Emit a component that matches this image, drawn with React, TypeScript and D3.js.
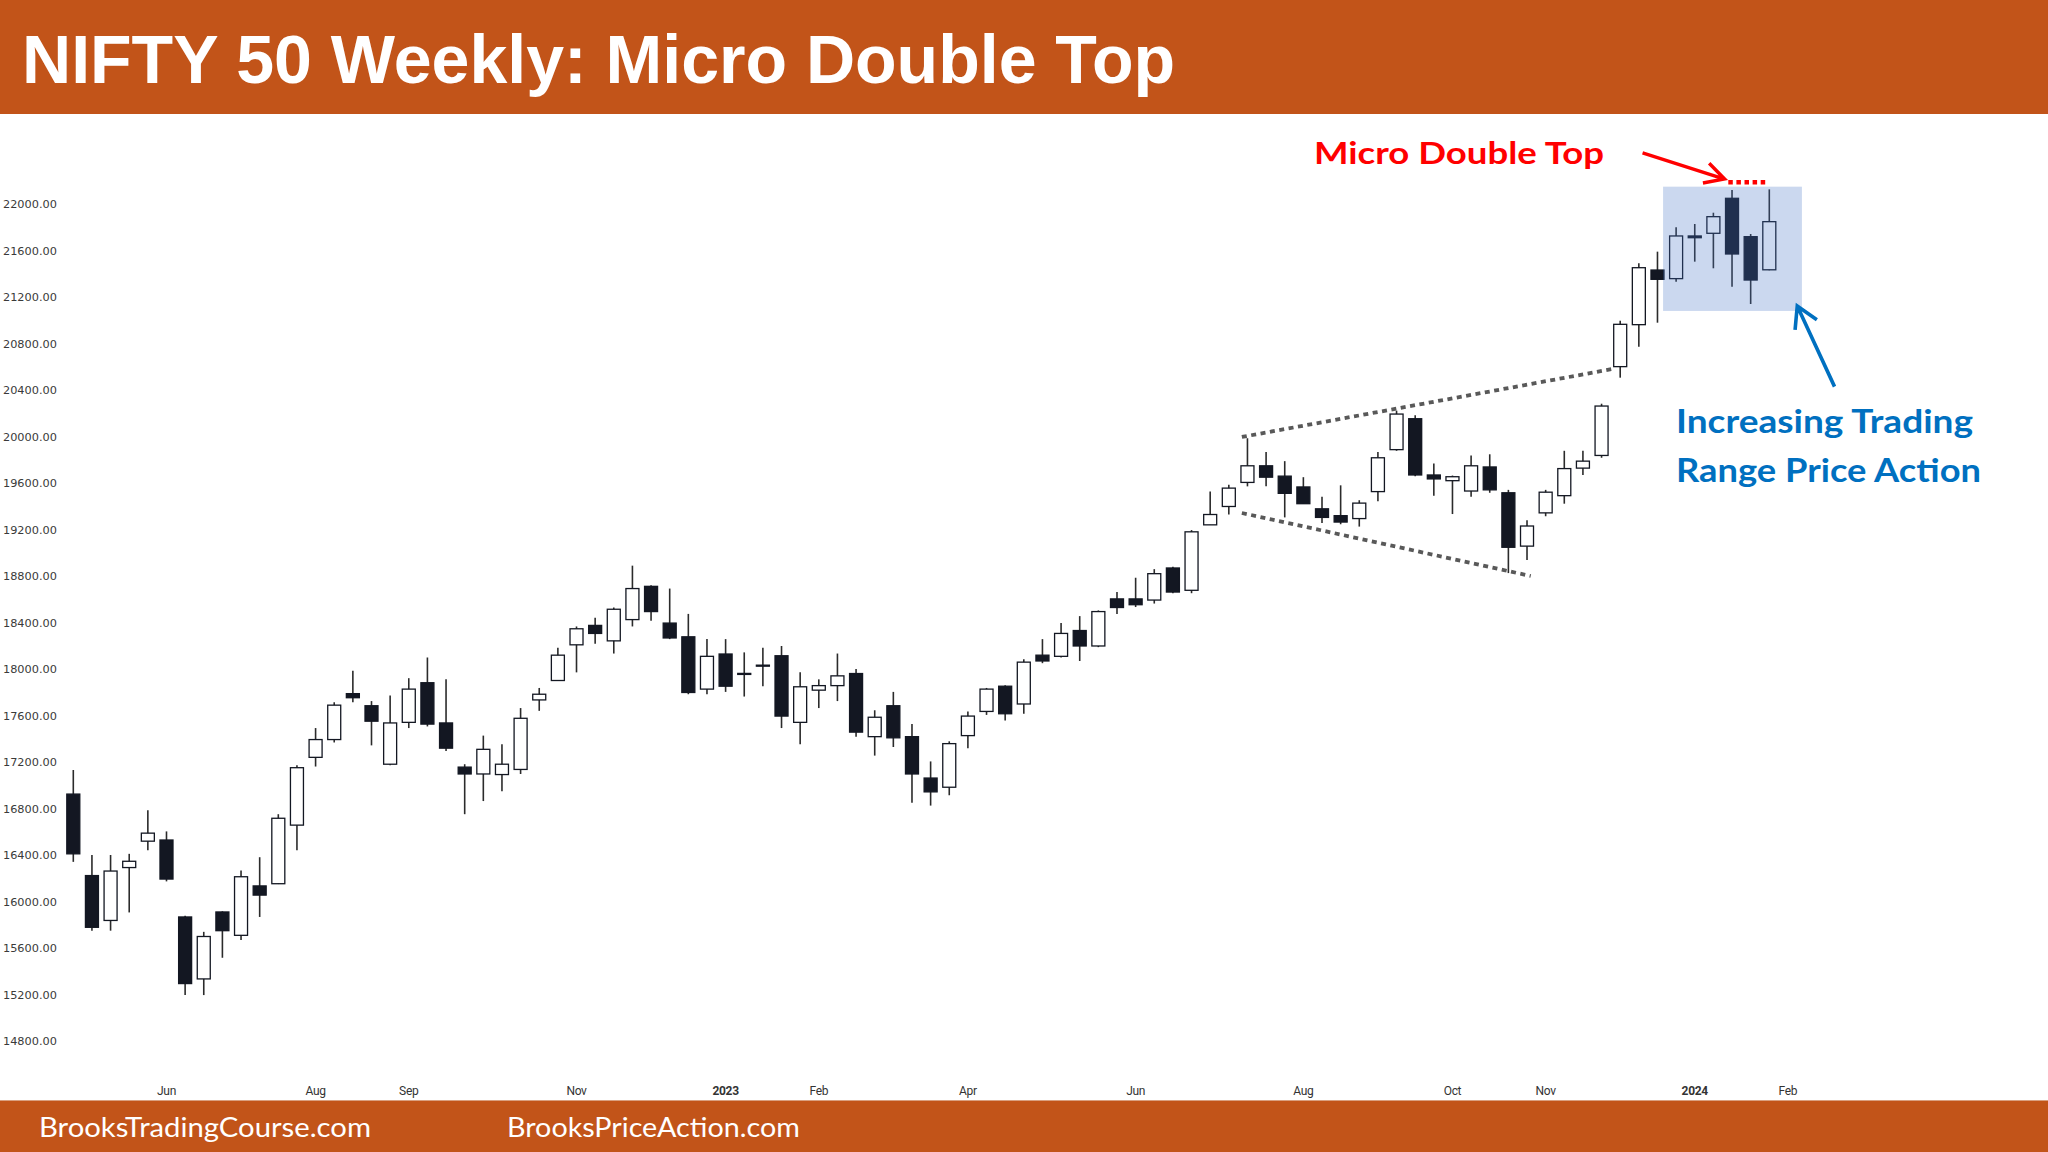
import React from "react";
import * as d3 from "d3";

// Weekly NIFTY 50 candles, week of 2022-05-02 through week of 2024-01-29
const opens = [16924,16223,15837,16292,16519,16529,15867,15334,15910,15709,16134,16153,16657,17240,17393,17788,17684,17181,17541,17882,17536,17156,17097,17092,17136,17734,17901,18208,18375,18242,18425,18711,18395,18277,17827,18129,17958,18033,18114,17541,17818,17857,17961,17418,17684,17418,17062,16983,17427,17635,17852,17699,18119,18109,18331,18198,18603,18603,18593,18869,18677,19240,19398,19605,19748,19659,19566,19378,19319,19294,19526,19887,20153,19669,19620,19531,19738,19516,19057,19343,19491,19728,19837,20601,20962,21432,21358,21725,21748,22049,21719,21434];
const highs = [17131,16400,16400,16410,16785,16603,15877,15739,15916,16267,16381,16751,17171,17492,17714,17985,17724,17773,17921,18099,17911,17181,17427,17353,17664,17837,18183,18366,18440,18529,18889,18721,18692,18474,18257,18257,18143,18183,18198,17971,17911,18133,18000,17645,17803,17526,17205,17378,17635,17837,17860,18084,18257,18395,18455,18504,18662,18785,18859,18879,19195,19526,19585,19985,19867,19788,19650,19482,19580,19452,19867,20222,20183,19768,19664,19837,19847,19541,19279,19541,19877,19877,20282,20996,21490,21590,21800,21828,21925,22120,21742,22126];
const lows = [16341,15749,15749,15906,16440,16173,15195,15195,15516,15669,15867,16150,16440,17161,17368,17714,17343,17171,17492,17506,17294,16751,16864,16948,17097,17640,17900,17971,18217,18133,18366,18415,18257,17783,17783,17803,17763,17852,17492,17353,17664,17724,17418,17255,17329,16850,16825,16914,17319,17605,17556,17615,18050,18100,18069,18188,18474,18533,18563,18652,18652,19240,19329,19571,19571,19304,19420,19255,19245,19225,19442,19877,19659,19491,19333,19482,19516,18825,18938,19314,19422,19669,19817,20506,20773,20979,21332,21504,21447,21289,21140,21430];
const closes = [16410,15778,16262,16346,16588,16193,15294,15699,15749,16213,16055,16716,17151,17393,17689,17753,17551,17536,17827,17526,17319,17097,17309,17181,17576,17783,18119,18346,18306,18514,18692,18494,18267,17798,18109,17852,17962,18027,17595,17847,17857,17941,17457,17585,17408,17097,16943,17358,17595,17827,17615,18059,18069,18306,18198,18494,18529,18553,18820,18662,19180,19329,19556,19748,19650,19511,19422,19304,19264,19427,19817,20193,19669,19635,19654,19748,19541,19047,19230,19521,19724,19788,20262,20965,21452,21352,21725,21710,21891,21570,21346,21848];

const priceTicks = [14800,15200,15600,16000,16400,16800,17200,17600,18000,18400,18800,19200,19600,20000,20400,20800,21200,21600,22000];
const timeTickLabels = ["Jun","Aug","Sep","Nov","2023","Feb","Apr","Jun","Aug","Oct","Nov","2024","Feb"];
const timeTickIndex = [5,13,18,27,35,40,48,57,66,74,79,87,92];

// annotation anchors (bar index, price)
const wedgeUpper = [[62.7,19996],[82.6,20581]];
const wedgeLower = [[62.7,19342],[78.2,18800]];
const doubleTopLine = [[88.8,22187],[90.9,22187]];
const rangeBox = { i0: 85.3, i1: 92.75, p0: 21080, p1: 22149 };
const redArrow = [[84.2,22439],[88.6,22215]];
const blueArrow = [[94.5,20429],[92.5,21123]];

const W = 2048, H = 1152;
const ORANGE = "#C25419";
const DARK = "#131722";

function arrowPath(x1:number,y1:number,x2:number,y2:number,len:number,ang:number){
  const a = Math.atan2(y1-y2, x1-x2);
  const r = ang*Math.PI/180;
  const ax1 = x2 + len*Math.cos(a+r), ay1 = y2 + len*Math.sin(a+r);
  const ax2 = x2 + len*Math.cos(a-r), ay2 = y2 + len*Math.sin(a-r);
  return `M${x1},${y1}L${x2},${y2}M${ax1},${ay1}L${x2},${y2}L${ax2},${ay2}`;
}

export default function App(){
  const x = d3.scaleLinear().domain([0,91]).range([73.3,1769.3]);
  const y = d3.scaleLinear().domain([14800,22000]).range([1041,204]);
  const bw = 13;
  const line = d3.line<number[]>().x(d=>x(d[0])).y(d=>y(d[1]));
  const ra = redArrow.map(d=>[x(d[0]),y(d[1])]);
  const ba = blueArrow.map(d=>[x(d[0]),y(d[1])]);
  return (
    <svg width={W} height={H} style={{position:"absolute",left:0,top:0,display:"block",background:"#fff"}}>
      <rect x={0} y={0} width={W} height={H} fill="#fff"/>
      {/* title bar */}
      <rect x={0} y={0} width={W} height={114} fill={ORANGE}/>
      <text x={22} y={83} fill="#fff" fontFamily="'Liberation Sans', Arial, sans-serif" fontWeight="bold" fontSize={68} textLength={1153} lengthAdjust="spacingAndGlyphs">NIFTY 50 Weekly: Micro Double Top</text>
      {/* y axis labels */}
      {priceTicks.map(p=>(
        <text key={p} x={3} y={y(p)+1} dominantBaseline="middle" fontFamily="'DejaVu Sans', sans-serif" fontSize={11.3} fill="#3a3a3a">{p.toFixed(2)}</text>
      ))}
      {/* x axis labels */}
      {timeTickLabels.map((t,k)=>(
        <text key={k} x={x(timeTickIndex[k])} y={1092} textAnchor="middle" dominantBaseline="middle" fontFamily="Roboto, sans-serif" fontSize={12} fontWeight={t.length===4?"bold":"normal"} fill="#333" style={{letterSpacing:"-0.3px"}}>{t}</text>
      ))}
      {/* candles */}
      {opens.map((o,i)=>{
        const c = closes[i];
        const up = c>=o;
        const top = y(Math.max(o,c)), bot = y(Math.min(o,c));
        const cx = x(i);
        return (
          <g key={i}>
            <line x1={cx} x2={cx} y1={y(highs[i])} y2={y(lows[i])} stroke="#2b2b2b" strokeWidth={1.6}/>
            <rect x={cx-bw/2} y={top} width={bw} height={Math.max(1,bot-top)} fill={up?"#fff":DARK} stroke={DARK} strokeWidth={1.3}/>
          </g>
        );
      })}
      {/* wedge lines */}
      <path d={line(wedgeUpper as any)!} stroke="#595959" strokeWidth={3.8} strokeDasharray="5 4.5" fill="none"/>
      <path d={line(wedgeLower as any)!} stroke="#595959" strokeWidth={3.8} strokeDasharray="5 4.5" fill="none"/>
      {/* trading range box */}
      <rect x={x(rangeBox.i0)} y={y(rangeBox.p1)} width={x(rangeBox.i1)-x(rangeBox.i0)} height={y(rangeBox.p0)-y(rangeBox.p1)} fill="#4472C4" opacity={0.28}/>
      {/* double top marker */}
      <path d={line(doubleTopLine as any)!} stroke="#FF0000" strokeWidth={4.3} strokeDasharray="4.5 3.6" fill="none"/>
      <path d={arrowPath(ra[0][0],ra[0][1],ra[1][0],ra[1][1],22,28)} stroke="#FF0000" strokeWidth={3.4} fill="none"/>
      <text x={1314} y={164} fill="#FF0000" fontFamily="Lato, sans-serif" fontWeight="bold" fontSize={31} textLength={290} lengthAdjust="spacingAndGlyphs">Micro Double Top</text>
      <path d={arrowPath(ba[0][0],ba[0][1],ba[1][0],ba[1][1],24,30)} stroke="#0070C0" strokeWidth={3.6} fill="none"/>
      <text x={1676} y={433} fill="#0070C0" fontFamily="Lato, sans-serif" fontWeight="bold" fontSize={32} textLength={297} lengthAdjust="spacingAndGlyphs">Increasing Trading</text>
      <text x={1676} y={482} fill="#0070C0" fontFamily="Lato, sans-serif" fontWeight="bold" fontSize={32} textLength={305} lengthAdjust="spacingAndGlyphs">Range Price Action</text>
      {/* footer */}
      <rect x={0} y={1100} width={W} height={52} fill={ORANGE}/>
      <line x1={0} x2={W} y1={1100.5} y2={1100.5} stroke="#d9a080" strokeWidth={1}/>
      <text x={39} y={1137} fill="#fff" fontFamily="Lato, sans-serif" fontSize={27} textLength={332} lengthAdjust="spacingAndGlyphs">BrooksTradingCourse.com</text>
      <text x={507} y={1137} fill="#fff" fontFamily="Lato, sans-serif" fontSize={27} textLength={293} lengthAdjust="spacingAndGlyphs">BrooksPriceAction.com</text>
    </svg>
  );
}
